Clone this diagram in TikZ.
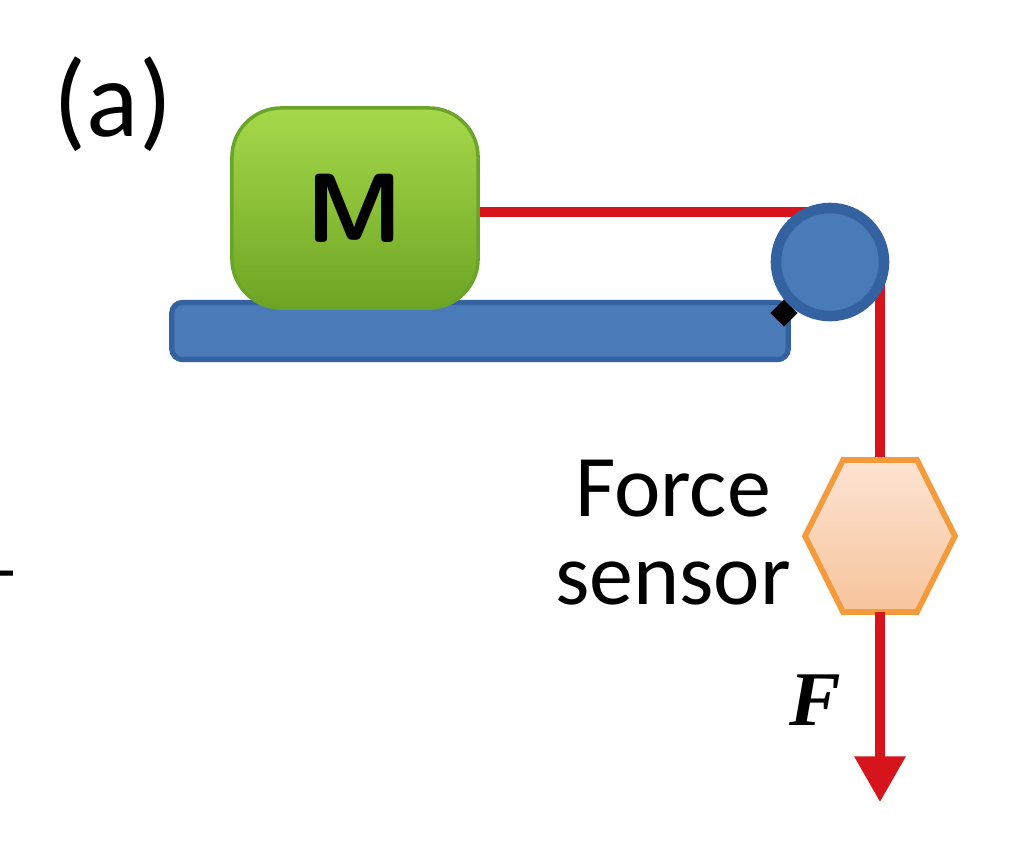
\documentclass[tikz,border=0pt]{standalone}
\usepackage{fontspec}
\setmainfont{Carlito}
\newfontfamily\serifF{Liberation Serif}
\usetikzlibrary{shapes.geometric,arrows.meta}
\definecolor{barblue}{HTML}{4A7AB8}
\definecolor{darkblue}{HTML}{3462A0}
\definecolor{strred}{HTML}{D7141C}
\definecolor{gtop}{HTML}{A6D84A}
\definecolor{gbot}{HTML}{6DA523}
\definecolor{gedge}{HTML}{6AA52A}
\definecolor{ptop}{HTML}{FCE3D2}
\definecolor{pbot}{HTML}{F8C49C}
\definecolor{oedge}{HTML}{F39A3A}
\tikzset{
  string/.style={strred, line width=2.6pt},
  lbl/.style={font=\fontsize{25}{25}\selectfont, align=center}
}
\begin{document}
\begin{tikzpicture}[x=0.01cm,y=-0.01cm]
\useasboundingbox (0,0) rectangle (1024,847);
% string
\coordinate (s1) at (478,212);
\coordinate (s2) at (830,212);
\coordinate (s3) at (880,262);
\draw[string] (s1) -- (s2);
\draw[string] (s3) -- (880,460);
% bar
\node[draw=darkblue, line width=1.5pt, fill=barblue, rounded corners=3pt, minimum width=6.16cm, minimum height=0.57cm, inner sep=0pt] (bar) at (480,331) {};
% bracket
\node[fill=black, diamond, minimum size=0.28cm, inner sep=0pt] (br) at (784,313) {};
% block
\node[draw=gedge, line width=1pt, top color=gtop, bottom color=gbot, rounded corners=14pt, minimum width=2.46cm, minimum height=2cm, inner sep=0pt, font=\fontsize{28}{30}\selectfont\bfseries\sffamily] (M) at (355,208) {M};
% pulley
\node[circle, draw=darkblue, line width=3pt, fill=barblue, minimum size=1.08cm, inner sep=0pt] (P) at (830,262) {};
% hexagon
\coordinate (Hn) at (880,460);
\coordinate (Hs) at (880,612);
\draw[oedge, line width=1.6pt, top color=ptop, bottom color=pbot] (805,536) -- (843,460) -- (917,460) -- (955,536) -- (917,612) -- (843,612) -- cycle;
\coordinate (tip) at (880,802);
\draw[string, -{Triangle[length=13pt,width=14pt]}] (Hs) -- (tip);
% labels
\node[font=\fontsize{31}{36}\selectfont] (a) at (113,104) {(a)};
\node[lbl] (fs) at (673,533) {Force\\sensor};
\node[font=\fontsize{22}{26}\selectfont\serifF\bfseries\itshape] (F) at (815,700) {F};
\node[font=\fontsize{20}{24}\selectfont, anchor=west, inner sep=0pt] (d) at (-6,582) {-};
\end{tikzpicture}
\end{document}
